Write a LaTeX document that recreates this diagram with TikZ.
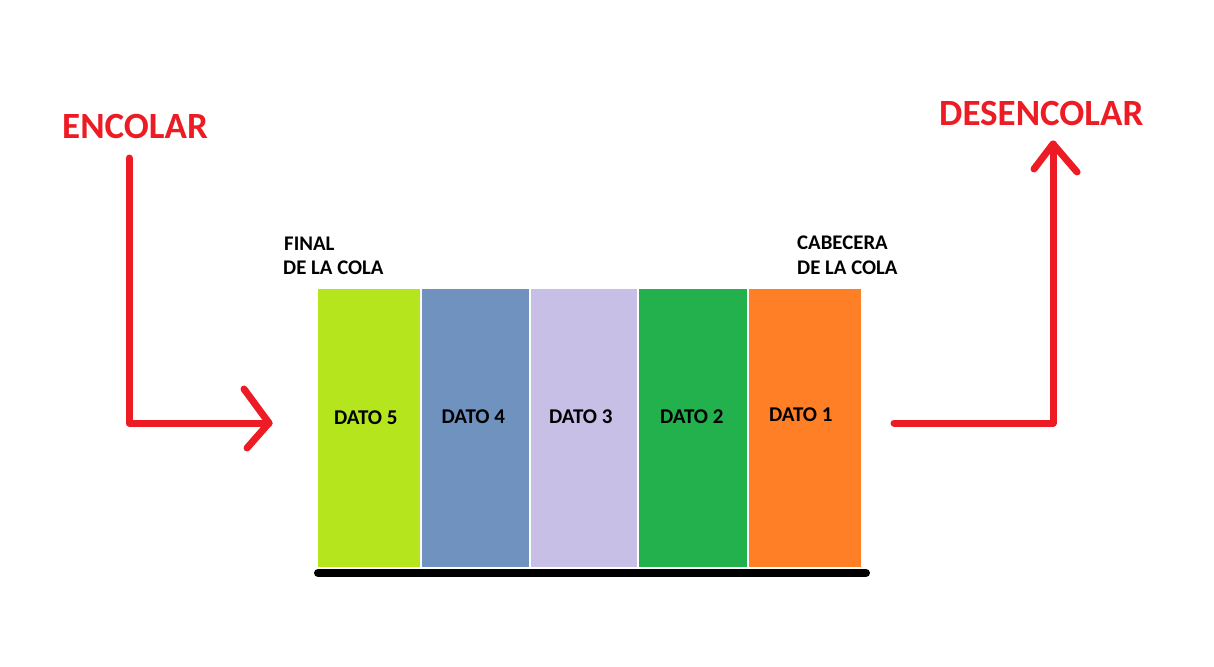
\documentclass[tikz,border=0pt]{standalone}
\usepackage{fontspec}
\setmainfont{Carlito}
\definecolor{pred}{HTML}{ED1C24}
\definecolor{plime}{HTML}{B5E61D}
\definecolor{pblue}{HTML}{7092BE}
\definecolor{plav}{HTML}{C8BFE7}
\definecolor{pgreen}{HTML}{22B14C}
\definecolor{porange}{HTML}{FF7F27}
\begin{document}
\begin{tikzpicture}[x=1pt,y=-1pt,
  databox/.style={draw=none,inner sep=0pt,minimum height=278pt,anchor=north west},
  datalabel/.style={anchor=base west,inner sep=0pt,font=\fontsize{21}{24}\selectfont\bfseries},
  smalllabel/.style={anchor=base west,inner sep=0pt,font=\fontsize{20.8}{25}\selectfont\bfseries},
  biglabel/.style={anchor=base west,inner sep=0pt,text=pred,font=\fontsize{37}{40}\selectfont\bfseries},
  redline/.style={draw=pred,line width=7pt,line cap=round,line join=round}]
\useasboundingbox (0,0) rectangle (1214,666);
% boxes
\node[databox,fill=plime,minimum width=102pt] (b5) at (318,289) {};
\node[databox,fill=pblue,minimum width=107pt] (b4) at (422,289) {};
\node[databox,fill=plav,minimum width=106pt] (b3) at (531,289) {};
\node[databox,fill=pgreen,minimum width=108pt] (b2) at (639,289) {};
\node[databox,fill=porange,minimum width=112pt] (b1) at (749,289) {};
% base bar
\coordinate (barL) at (318,573);
\coordinate (barR) at (866,573);
\draw[line width=8pt,line cap=round] (barL) -- (barR);
% labels
\node[datalabel] (t5) at (334,424) {DATO 5};
\node[datalabel] (t4) at (441.5,423) {DATO 4};
\node[datalabel] (t3) at (549,423) {DATO 3};
\node[datalabel] (t2) at (660,423) {DATO 2};
\node[datalabel] (t1) at (769,421) {DATO 1};
\node[smalllabel] (fin1) at (284,250) {FINAL};
\node[smalllabel] (fin2) at (283,274) {DE LA COLA};
\node[smalllabel] (cab1) at (797,249) {CABECERA};
\node[smalllabel] (cab2) at (797,274) {DE LA COLA};
\node[biglabel] (enc) at (62,138) {ENCOLAR};
\node[biglabel] (des) at (939,125) {DESENCOLAR};
% left arrow
\coordinate (l0) at (129,158);
\coordinate (l1) at (129,423);
\coordinate (l2) at (269,423);
\coordinate (la1) at (244,389);
\coordinate (la2) at (247,448);
\draw[redline] (l0) -- (l1) -- (l2);
\draw[redline] (la1) -- (l2) -- (la2);
% right arrow
\coordinate (r0) at (894,423);
\coordinate (r1) at (1053,423);
\coordinate (r2) at (1053,144);
\coordinate (ra1) at (1034,169);
\coordinate (ra2) at (1077,172);
\draw[redline] (r0) -- (r1) -- (r2);
\draw[redline] (ra1) -- (r2) -- (ra2);
\end{tikzpicture}
\end{document}
